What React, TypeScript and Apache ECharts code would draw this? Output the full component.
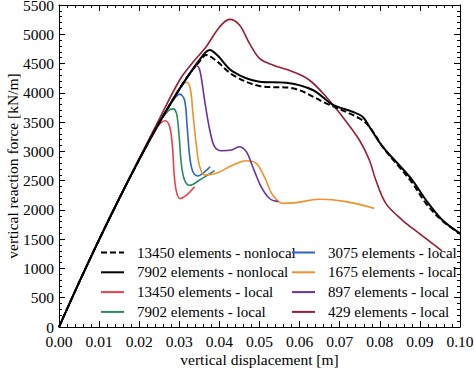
import React, { useEffect, useRef } from "react";
import * as echarts from "echarts";

const xTickDecimals = 2;
const xMin = 0, xMax = 0.1, xStep = 0.01;
const yMin = 0, yMax = 5500, yStep = 500;

const seriesNames = [
  "13450 elements - nonlocal",
  "7902 elements - nonlocal",
  "13450 elements - local",
  "7902 elements - local",
  "3075 elements - local",
  "1675 elements - local",
  "897 elements - local",
  "429 elements - local",
];

const nonlocal13450: [number, number][] = [
  [0, 0], [0.005, 760], [0.01, 1490], [0.015, 2190], [0.02, 2860], [0.025, 3490],
  [0.03, 4060], [0.0325, 4320], [0.035, 4530], [0.0367, 4646], [0.039, 4560],
  [0.0434, 4304], [0.05, 4116], [0.0583, 4077], [0.0666, 3820], [0.0749, 3565],
  [0.0774, 3421], [0.081, 3050], [0.0848, 2738], [0.088, 2470], [0.0915, 2112],
  [0.0955, 1820], [0.1, 1590],
];
const nonlocal7902: [number, number][] = [
  [0, 0], [0.005, 760], [0.01, 1490], [0.015, 2190], [0.02, 2860], [0.025, 3490],
  [0.03, 4060], [0.0325, 4320], [0.035, 4560], [0.0376, 4731], [0.0395, 4640],
  [0.0434, 4361], [0.05, 4190], [0.0566, 4173], [0.0633, 4048], [0.0682, 3800],
  [0.0732, 3677], [0.0757, 3592], [0.0774, 3421], [0.0807, 3080], [0.0848, 2767],
  [0.0881, 2511], [0.0915, 2169], [0.0956, 1827], [0.1, 1600],
];
const local13450: [number, number][] = [
  [0, 0], [0.005, 760], [0.01, 1490], [0.015, 2190], [0.02, 2860], [0.0235, 3300],
  [0.0253, 3480], [0.0265, 3523], [0.0276, 3421], [0.0283, 3080], [0.0287, 2625],
  [0.0292, 2340], [0.0301, 2195], [0.0318, 2254], [0.0338, 2396],
];
const local7902: [number, number][] = [
  [0, 0], [0.005, 760], [0.01, 1490], [0.015, 2190], [0.02, 2860], [0.025, 3490],
  [0.0272, 3690], [0.0284, 3725], [0.0293, 3648], [0.0299, 3308], [0.0305, 2795],
  [0.0313, 2511], [0.0326, 2420], [0.0351, 2511], [0.0388, 2670],
];
const local3075: [number, number][] = [
  [0, 0], [0.005, 760], [0.01, 1490], [0.015, 2190], [0.02, 2860], [0.025, 3490],
  [0.0275, 3770], [0.029, 3920], [0.0301, 3978], [0.0313, 3877], [0.0319, 3479],
  [0.0326, 2909], [0.0334, 2652], [0.0347, 2579], [0.0359, 2625], [0.0377, 2738],
];
const local1675: [number, number][] = [
  [0, 0], [0.005, 760], [0.01, 1490], [0.015, 2190], [0.02, 2860], [0.025, 3490],
  [0.0285, 3910], [0.0305, 4120], [0.0319, 4180], [0.0328, 4048], [0.0334, 3648],
  [0.0343, 3080], [0.0351, 2738], [0.0363, 2596], [0.0392, 2625], [0.0434, 2767],
  [0.0467, 2840], [0.0492, 2795], [0.0512, 2567], [0.0533, 2254], [0.0558, 2112],
  [0.0591, 2124], [0.0649, 2181], [0.0716, 2141], [0.0786, 2027],
];
const local897: [number, number][] = [
  [0, 0], [0.005, 760], [0.01, 1490], [0.015, 2190], [0.02, 2860], [0.025, 3490],
  [0.03, 4060], [0.0325, 4310], [0.0344, 4458], [0.0352, 4360], [0.0363, 3877],
  [0.0376, 3365], [0.0388, 3080], [0.0405, 3011], [0.043, 3023], [0.0449, 3080],
  [0.0467, 2995], [0.0483, 2738], [0.0504, 2396], [0.0525, 2195], [0.0546, 2141],
];
const local429: [number, number][] = [
  [0, 0], [0.005, 765], [0.01, 1500], [0.015, 2200], [0.02, 2880], [0.025, 3550],
  [0.0301, 4219], [0.0335, 4530], [0.0367, 4788], [0.04, 5120], [0.0425, 5255],
  [0.045, 5158], [0.0475, 4845], [0.05, 4589], [0.0533, 4475], [0.0583, 4361],
  [0.0624, 4219], [0.0666, 3933], [0.0707, 3592], [0.0749, 3194], [0.0774, 2852],
  [0.079, 2511], [0.0815, 2112], [0.0856, 1827], [0.0898, 1600], [0.0955, 1300],
];

const seriesData = [
  nonlocal13450, nonlocal7902, local13450, local7902,
  local3075, local1675, local897, local429,
];
const seriesColors = [
  "#000000", "#000000", "#e8404a", "#2a8a5a",
  "#2a62c8", "#f0902a", "#6b2fa0", "#9b1b30",
];

const FONT = "'Liberation Serif', 'DejaVu Serif', serif";

export default function App() {
  const ref = useRef<HTMLDivElement>(null);
  useEffect(() => {
    document.body.style.margin = "0";
    const chart = echarts.init(ref.current!, null, { renderer: "svg" });
    const axisCommon = {
      type: "value" as const,
      axisLine: { show: true, onZero: false, lineStyle: { color: "#000", width: 1 } },
      axisTick: { show: true, inside: true, length: 6, lineStyle: { color: "#000" } },
      minorTick: { show: true, splitNumber: 5, length: 3, lineStyle: { color: "#000" } },
      splitLine: { show: false },
    };
    const order = [2, 3, 4, 5, 6, 7, 0, 1];
    const legendCommon = {
      orient: "vertical" as const,
      top: 245,
      padding: 0,
      itemWidth: 23,
      itemHeight: 14,
      itemGap: 4.8,
      itemStyle: { opacity: 0 },
      textStyle: {
        fontFamily: FONT, fontSize: 15, lineHeight: 14, color: "#000",
        padding: [0, 0, 0, 8],
      },
    };
    chart.setOption({
      animation: false,
      textStyle: { fontFamily: FONT },
      grid: { left: 59, right: 14, top: 5, bottom: 42, outerBoundsMode: "none" },
      xAxis: [
        {
          ...axisCommon,
          min: xMin, max: xMax, interval: xStep,
          name: "vertical displacement [m]",
          nameLocation: "middle", nameGap: 24, nameMoveOverlap: false,
          nameTextStyle: { fontFamily: FONT, fontSize: 15.5, color: "#000" },
          axisLabel: {
            fontFamily: FONT, fontSize: 15.5, color: "#000", margin: 6,
            formatter: (v: number) => v.toFixed(xTickDecimals),
          },
        },
        {
          ...axisCommon, position: "top",
          min: xMin, max: xMax, interval: xStep,
          axisLabel: { show: false },
        },
      ],
      yAxis: [
        {
          ...axisCommon,
          min: yMin, max: yMax, interval: yStep,
          name: "vertical reaction force [kN/m]",
          nameLocation: "middle", nameGap: 39, nameMoveOverlap: false,
          nameTextStyle: { fontFamily: FONT, fontSize: 15.5, color: "#000" },
          axisLabel: {
            fontFamily: FONT, fontSize: 15.5, color: "#000", margin: 5,
            formatter: (v: number) => String(v),
          },
        },
        {
          ...axisCommon, position: "right",
          min: yMin, max: yMax, interval: yStep,
          axisLabel: { show: false },
        },
      ],
      legend: [
        { ...legendCommon, data: seriesNames.slice(0, 4), left: 100 },
        { ...legendCommon, data: seriesNames.slice(4), left: 291 },
      ],
      series: order.map((i) => ({
        name: seriesNames[i],
        type: "line",
        data: seriesData[i],
        smooth: 0.35,
        showSymbol: false,
        symbol: "none",
        color: seriesColors[i],
        lineStyle: {
          color: seriesColors[i],
          width: i < 2 ? 2 : 1.6,
          type: i === 0 ? [6, 3] : "solid",
        },
        xAxisIndex: 0,
        yAxisIndex: 0,
      })),
    });
    return () => chart.dispose();
  }, []);
  return <div ref={ref} style={{ width: 474, height: 369 }} />;
}
